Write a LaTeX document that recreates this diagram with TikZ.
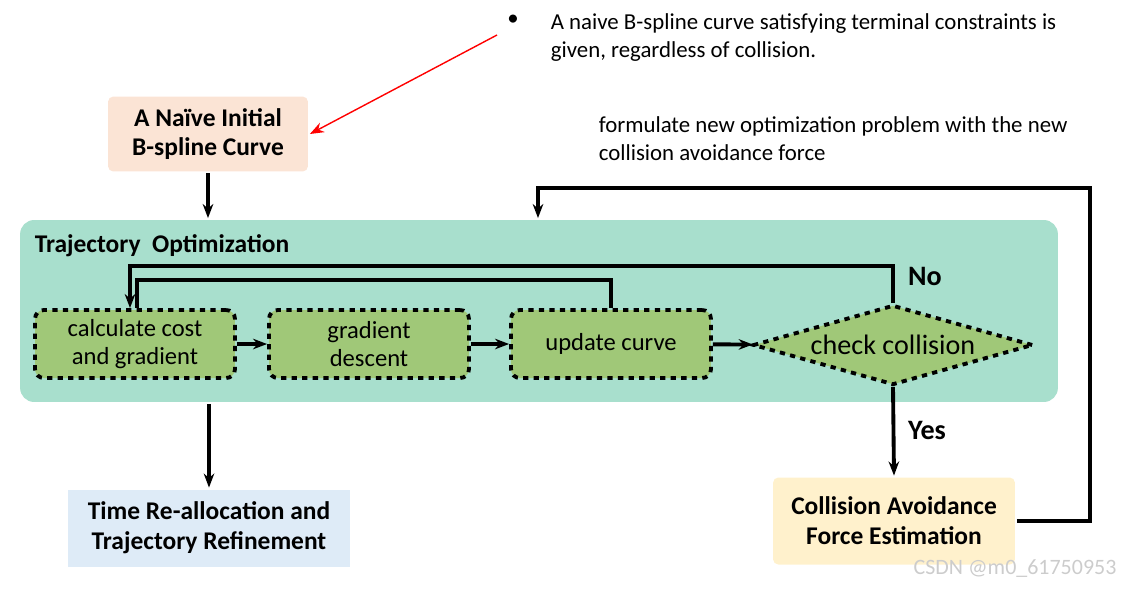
\documentclass[tikz,border=0pt]{standalone}
\usepackage{fontspec}
\setmainfont{Carlito}
\usetikzlibrary{shapes.geometric,arrows.meta}
\definecolor{mypeach}{RGB}{251,228,213}
\definecolor{myteal}{RGB}{168,223,205}
\definecolor{mygreen}{RGB}{160,200,120}
\definecolor{myyellow}{RGB}{255,241,204}
\definecolor{myblue}{RGB}{222,235,247}
\begin{document}
\begin{tikzpicture}[x=0.02cm,y=-0.02cm,line width=2.2pt,>={Stealth[length=8pt]}]
	\tikzstyle{box}=[rounded corners=3pt,font=\fontsize{14.5}{17}\selectfont\bfseries,align=center];
	\tikzstyle{stage}=[draw,dashed,rounded corners=5pt,fill=mygreen,minimum width=4cm,minimum height=1.36cm,align=center,font=\fontsize{14}{15.5}\selectfont];
	\tikzstyle{note}=[anchor=north west,align=left,font=\fontsize{13}{16}\selectfont];
	\useasboundingbox (0,0) rectangle (1133,589);
	\node[font=\fontsize{13}{16}\selectfont] (dot) at (513,20) {\textbullet};
	\node[note] (bullet) at (543,6) {A naive B-spline curve satisfying terminal constraints is\\given, regardless of collision.};
	\node[note] (formulate) at (591,109) {formulate new optimization problem with the new\\collision avoidance force};
	\node[box,fill=mypeach,minimum width=4cm,minimum height=1.5cm] (init) at (208,134) {A Naïve Initial\\B-spline Curve};
	\node[fill=myteal,rounded corners=8pt,minimum width=20.76cm,minimum height=3.64cm] (traj) at (539,311) {};
	\node[anchor=west,font=\fontsize{14.5}{17}\selectfont\bfseries] (title) at (27,246) {Trajectory\ \ Optimization};
	\node[stage] (cost) at (135,344) {calculate cost\\and gradient};
	\node[stage] (grad) at (369,344) {gradient\\descent};
	\node[stage] (update) at (611,344) {update curve};
	\node[diamond,draw,dashed,fill=mygreen,aspect=3.5,minimum width=5.6cm,minimum height=1.6cm,inner sep=0pt,font=\fontsize{16}{18}\selectfont] (check) at (893,345) {check collision};
	\node[box,fill=myyellow,minimum width=4.84cm,minimum height=1.74cm] (force) at (894,521) {Collision Avoidance\\Force Estimation};
	\node[box,fill=myblue,rounded corners=0pt,minimum width=5.64cm,minimum height=1.54cm] (time) at (209,528) {Time Re-allocation and\\Trajectory Refinement};
	\node[font=\fontsize{16}{18}\selectfont\bfseries] (no) at (925,276) {No};
	\node[font=\fontsize{16}{18}\selectfont\bfseries] (yes) at (927,430) {Yes};
	\node[text=gray!40,font=\fontsize{12.5}{14}\selectfont] (mark) at (1015,569) {CSDN @m0\_61750953};
	\coordinate (redtail) at (497,35);
	\draw[->,red,line width=0.8pt] (redtail) -- (init.east);
	\draw[->] (init.south) -- (init.south|-traj.north);
	\draw[->] (cost) -- (grad);
	\draw[->] (grad) -- (update);
	\draw[->] (update) -- (check);
	\draw[->] (check.north) |- (130,266) -- (cost.north-|130,0);
	\draw (update.north) |- (137,280) -- (cost.north-|137,0);
	\draw[->] (check.south) -- (force.north);
	\draw[->] (traj.south-|time.north) -- (time.north);
	\draw[->] (force.east) -| (1090,188) -| (traj.north-|538,0);
\end{tikzpicture}
\end{document}
